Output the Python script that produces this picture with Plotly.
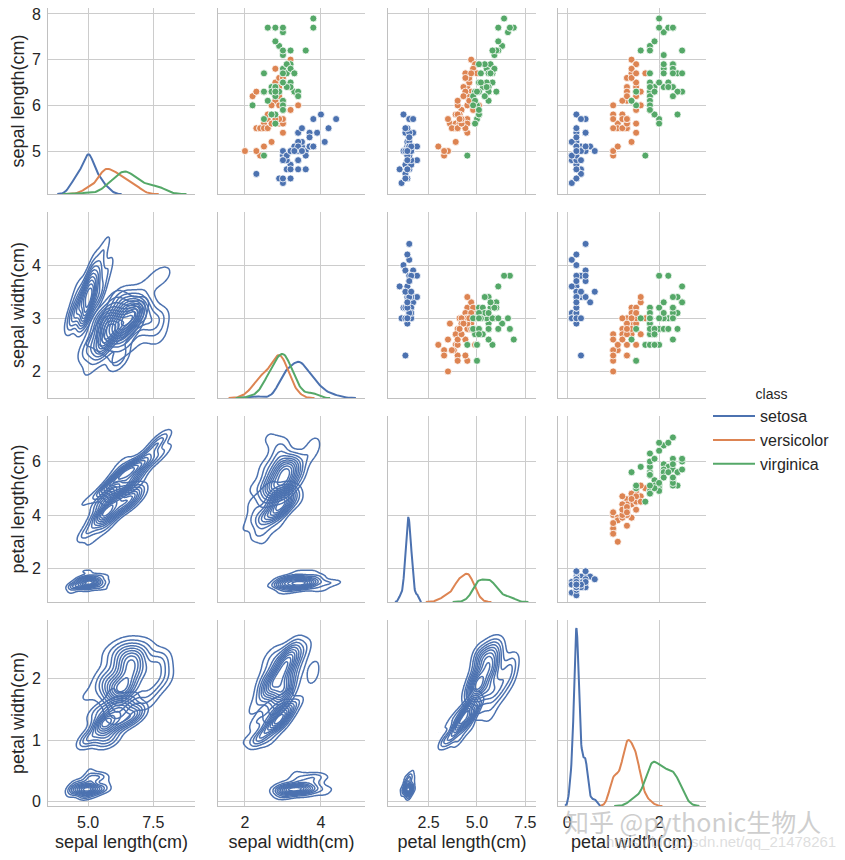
import numpy as np
import plotly.graph_objects as go

# iris measurements, one list per class and column
setosa_sl = [5.1,4.9,4.7,4.6,5.0,5.4,4.6,5.0,4.4,4.9,5.4,4.8,4.8,4.3,5.8,5.7,5.4,5.1,5.7,5.1,5.4,5.1,4.6,5.1,4.8,5.0,5.0,5.2,5.2,4.7,4.8,5.4,5.2,5.5,4.9,5.0,5.5,4.9,4.4,5.1,5.0,4.5,4.4,5.0,5.1,4.8,5.1,4.6,5.3,5.0]
setosa_sw = [3.5,3.0,3.2,3.1,3.6,3.9,3.4,3.4,2.9,3.1,3.7,3.4,3.0,3.0,4.0,4.4,3.9,3.5,3.8,3.8,3.4,3.7,3.6,3.3,3.4,3.0,3.4,3.5,3.4,3.2,3.1,3.4,4.1,4.2,3.1,3.2,3.5,3.6,3.0,3.4,3.5,2.3,3.2,3.5,3.8,3.0,3.8,3.2,3.7,3.3]
setosa_pl = [1.4,1.4,1.3,1.5,1.4,1.7,1.4,1.5,1.4,1.5,1.5,1.6,1.4,1.1,1.2,1.5,1.3,1.4,1.7,1.5,1.7,1.5,1.0,1.7,1.9,1.6,1.6,1.5,1.4,1.6,1.6,1.5,1.5,1.4,1.5,1.2,1.3,1.4,1.3,1.5,1.3,1.3,1.3,1.6,1.9,1.4,1.6,1.4,1.5,1.4]
setosa_pw = [0.2,0.2,0.2,0.2,0.2,0.4,0.3,0.2,0.2,0.1,0.2,0.2,0.1,0.1,0.2,0.4,0.4,0.3,0.3,0.3,0.2,0.4,0.2,0.5,0.2,0.2,0.4,0.2,0.2,0.2,0.2,0.4,0.1,0.2,0.2,0.2,0.2,0.1,0.2,0.2,0.3,0.3,0.2,0.6,0.4,0.3,0.2,0.2,0.2,0.2]

versicolor_sl = [7.0,6.4,6.9,5.5,6.5,5.7,6.3,4.9,6.6,5.2,5.0,5.9,6.0,6.1,5.6,6.7,5.6,5.8,6.2,5.6,5.9,6.1,6.3,6.1,6.4,6.6,6.8,6.7,6.0,5.7,5.5,5.5,5.8,6.0,5.4,6.0,6.7,6.3,5.6,5.5,5.5,6.1,5.8,5.0,5.6,5.7,5.7,6.2,5.1,5.7]
versicolor_sw = [3.2,3.2,3.1,2.3,2.8,2.8,3.3,2.4,2.9,2.7,2.0,3.0,2.2,2.9,2.9,3.1,3.0,2.7,2.2,2.5,3.2,2.8,2.5,2.8,2.9,3.0,2.8,3.0,2.9,2.6,2.4,2.4,2.7,2.7,3.0,3.4,3.1,2.3,3.0,2.5,2.6,3.0,2.6,2.3,2.7,3.0,2.9,2.9,2.5,2.8]
versicolor_pl = [4.7,4.5,4.9,4.0,4.6,4.5,4.7,3.3,4.6,3.9,3.5,4.2,4.0,4.7,3.6,4.4,4.5,4.1,4.5,3.9,4.8,4.0,4.9,4.7,4.3,4.4,4.8,5.0,4.5,3.5,3.8,3.7,3.9,5.1,4.5,4.5,4.7,4.4,4.1,4.0,4.4,4.6,4.0,3.3,4.2,4.2,4.2,4.3,3.0,4.1]
versicolor_pw = [1.4,1.5,1.5,1.3,1.5,1.3,1.6,1.0,1.3,1.4,1.0,1.5,1.0,1.4,1.3,1.4,1.5,1.0,1.5,1.1,1.8,1.3,1.5,1.2,1.3,1.4,1.4,1.7,1.5,1.0,1.1,1.0,1.2,1.6,1.5,1.6,1.5,1.3,1.3,1.3,1.2,1.4,1.2,1.0,1.3,1.2,1.3,1.3,1.1,1.3]

virginica_sl = [6.3,5.8,7.1,6.3,6.5,7.6,4.9,7.3,6.7,7.2,6.5,6.4,6.8,5.7,5.8,6.4,6.5,7.7,7.7,6.0,6.9,5.6,7.7,6.3,6.7,7.2,6.2,6.1,6.4,7.2,7.4,7.9,6.4,6.3,6.1,7.7,6.3,6.4,6.0,6.9,6.7,6.9,5.8,6.8,6.7,6.7,6.3,6.5,6.2,5.9]
virginica_sw = [3.3,2.7,3.0,2.9,3.0,3.0,2.5,2.9,2.5,3.6,3.2,2.7,3.0,2.5,2.8,3.2,3.0,3.8,2.6,2.2,3.2,2.8,2.8,2.7,3.3,3.2,2.8,3.0,2.8,3.0,2.8,3.8,2.8,2.8,2.6,3.0,3.4,3.1,3.0,3.1,3.1,3.1,2.7,3.2,3.3,3.0,2.5,3.0,3.4,3.0]
virginica_pl = [6.0,5.1,5.9,5.6,5.8,6.6,4.5,6.3,5.8,6.1,5.1,5.3,5.5,5.0,5.1,5.3,5.5,6.7,6.9,5.0,5.7,4.9,6.7,4.9,5.7,6.0,4.8,4.9,5.6,5.8,6.1,6.4,5.6,5.1,5.6,6.1,5.6,5.5,4.8,5.4,5.6,5.1,5.1,5.9,5.7,5.2,5.0,5.2,5.4,5.1]
virginica_pw = [2.5,1.9,2.1,1.8,2.2,2.1,1.7,1.8,1.8,2.5,2.0,1.9,2.1,2.0,2.4,2.3,1.8,2.2,2.3,1.5,2.3,2.0,2.0,1.8,2.1,1.8,1.8,1.8,2.1,1.6,1.9,2.0,2.2,1.5,1.4,2.3,2.4,1.8,1.8,2.1,2.4,2.3,1.9,2.3,2.5,2.3,1.9,2.0,2.3,1.8]

class_names = ['setosa', 'versicolor', 'virginica']
class_colors = ['#4C72B0', '#DD8452', '#55A868']
columns = ['sepal length(cm)', 'sepal width(cm)', 'petal length(cm)', 'petal width(cm)']
x_tick_vals = [[5, 7.5], [2, 4], [2.5, 5, 7.5], [0, 2]]
x_tick_text = [['5.0', '7.5'], ['2', '4'], ['2.5', '5.0', '7.5'], ['0', '2']]
y_tick_vals = [[5, 6, 7, 8], [2, 3, 4], [2, 4, 6], [0, 1, 2]]

data = [
    [setosa_sl, setosa_sw, setosa_pl, setosa_pw],
    [versicolor_sl, versicolor_sw, versicolor_pl, versicolor_pw],
    [virginica_sl, virginica_sw, virginica_pl, virginica_pw],
]

# the page keeps an 8px body margin, top and bottom both count against the window height
OFF = 8
W, H = 845 - OFF, 860 - 2 * OFF


def px_x(p):
    return (p - OFF) / W


def px_y(p):
    return 1 - (p - OFF) / H


# panel edges in pixels of the reference and axis limits
col_px = [(48, 195), (218, 365), (388, 536), (558, 706)]
row_px = [(8, 194), (212, 398), (416, 602), (620, 806)]
x_ranges = [[3.46, 9.1], [1.29, 5.16], [0.4, 8.05], [-0.2, 3.02]]
y_ranges = [[4.06, 8.13], [1.5, 5.0], [0.75, 7.7], [-0.07, 2.95]]

GRID = '#cccccc'
TEXT = '#262626'
CLEAR = 'rgba(0,0,0,0)'
FONT = 'Liberation Sans, Arial, sans-serif'


def kde_1d(v):
    v = np.asarray(v)
    bw = v.std(ddof=1) * len(v) ** -0.2
    xs = np.linspace(v.min() - 3 * bw, v.max() + 3 * bw, 100)
    ys = np.exp(-0.5 * ((xs[:, None] - v) / bw) ** 2).sum(axis=1) / (len(v) * bw * np.sqrt(2 * np.pi))
    return xs, ys


def kde_2d(a, b):
    # gaussian kernel with scott factor on the full covariance
    a, b = np.asarray(a), np.asarray(b)
    factor = len(a) ** (-1 / 6)
    cov = np.cov(a, b) * factor ** 2
    inv = np.linalg.inv(cov)
    norm = len(a) * 2 * np.pi * np.sqrt(np.linalg.det(cov))
    xs = np.linspace(a.min() - 3 * factor * a.std(ddof=1), a.max() + 3 * factor * a.std(ddof=1), 100)
    ys = np.linspace(b.min() - 3 * factor * b.std(ddof=1), b.max() + 3 * factor * b.std(ddof=1), 100)
    gx, gy = np.meshgrid(xs, ys)
    dx = gx[..., None] - a
    dy = gy[..., None] - b
    z = np.exp(-0.5 * (inv[0, 0] * dx ** 2 + 2 * inv[0, 1] * dx * dy + inv[1, 1] * dy ** 2)).sum(axis=2) / norm
    return xs, ys, z


# all diagonal panels share one density scale
peak = max(kde_1d(cls[c])[1].max() for cls in data for c in range(4))
diag_range = [0, peak / 0.957]

fig = go.Figure()
layout = {}

for r in range(4):
    for c in range(4):
        n = r * 4 + c + 1
        xname, yname = f'x{n}', f'y{n}'
        layout[f'xaxis{n}'] = dict(
            domain=[px_x(col_px[c][0]), px_x(col_px[c][1])], range=x_ranges[c], anchor=yname,
            tickvals=x_tick_vals[c], ticktext=x_tick_text[c], showticklabels=r == 3,
            title=dict(text=columns[c] if r == 3 else None, font=dict(size=18, color=TEXT), standoff=10),
            showgrid=True, gridcolor=GRID, gridwidth=1, zeroline=False,
            showline=True, linecolor='#c0c0c0', linewidth=1,
            ticks='outside', ticklen=2, tickcolor=CLEAR,
            tickfont=dict(size=16, color=TEXT),
        )
        layout[f'yaxis{n}'] = dict(
            domain=[px_y(row_px[r][1]), px_y(row_px[r][0])], range=y_ranges[r], anchor=xname,
            tickvals=y_tick_vals[r], showticklabels=c == 0,
            title=dict(text=columns[r] if c == 0 else None, font=dict(size=18, color=TEXT), standoff=5),
            showgrid=True, gridcolor=GRID, gridwidth=1, zeroline=False,
            showline=True, linecolor='#c0c0c0', linewidth=1,
            ticks='outside', ticklen=3, tickcolor=CLEAR, ticklabeloverflow='allow',
            tickfont=dict(size=16, color=TEXT),
        )

        if r == c:
            # empty trace so the base axes stay in place under the hidden density axis
            fig.add_trace(go.Scatter(x=[None], y=[None], xaxis=xname, yaxis=yname,
                                     showlegend=False, hoverinfo='skip'))
            over = 17 + r
            layout[f'yaxis{over}'] = dict(
                domain=[px_y(row_px[r][1]), px_y(row_px[r][0])], range=diag_range,
                anchor=xname, overlaying=yname, visible=False,
            )
            for i, cls in enumerate(data):
                xs, ys = kde_1d(cls[c])
                fig.add_trace(go.Scatter(
                    x=xs, y=ys, mode='lines', xaxis=xname, yaxis=f'y{over}',
                    line=dict(color=class_colors[i], width=2),
                    name=class_names[i], showlegend=r == 0,
                ))
        elif r < c:
            for i, cls in enumerate(data):
                fig.add_trace(go.Scatter(
                    x=cls[c], y=cls[r], mode='markers', xaxis=xname, yaxis=yname,
                    marker=dict(color=class_colors[i], size=7, line=dict(color='white', width=0.8)),
                    showlegend=False,
                ))
        else:
            for cls in data:
                xs, ys, z = kde_2d(cls[c], cls[r])
                step = z.max() / 11
                fig.add_trace(go.Contour(
                    x=xs, y=ys, z=z, xaxis=xname, yaxis=yname, showscale=False,
                    autocontour=False,
                    contours=dict(start=step, end=z.max(), size=step, coloring='none'),
                    line=dict(color=class_colors[0], width=1.5, smoothing=1),
                    showlegend=False, hoverinfo='skip',
                ))

fig.update_layout(
    width=W, height=H, margin=dict(l=0, r=0, t=0, b=0, autoexpand=False),
    plot_bgcolor='white', paper_bgcolor='white',
    font=dict(family=FONT, color=TEXT),
    legend=dict(
        x=px_x(708), y=px_y(381), xanchor='left', yanchor='top',
        title=dict(text='class', side='top center', font=dict(size=14, color=TEXT)),
        font=dict(size=16, color=TEXT), itemwidth=42, bgcolor=CLEAR,
        tracegroupgap=0,
    ),
    annotations=[
        dict(text='知乎 @pythonic生物人', x=px_x(823), y=px_y(821), xref='paper', yref='paper',
             xanchor='right', yanchor='middle', showarrow=False,
             font=dict(family='Noto Sans CJK SC', size=25, color='rgba(190,190,190,0.75)')),
        dict(text='https://blog.csdn.net/qq_21478261', x=px_x(838), y=px_y(841), xref='paper', yref='paper',
             xanchor='right', yanchor='middle', showarrow=False,
             font=dict(family=FONT, size=15, color='rgba(200,200,200,0.6)')),
    ],
    **layout,
)

fig.write_html('out.html')
